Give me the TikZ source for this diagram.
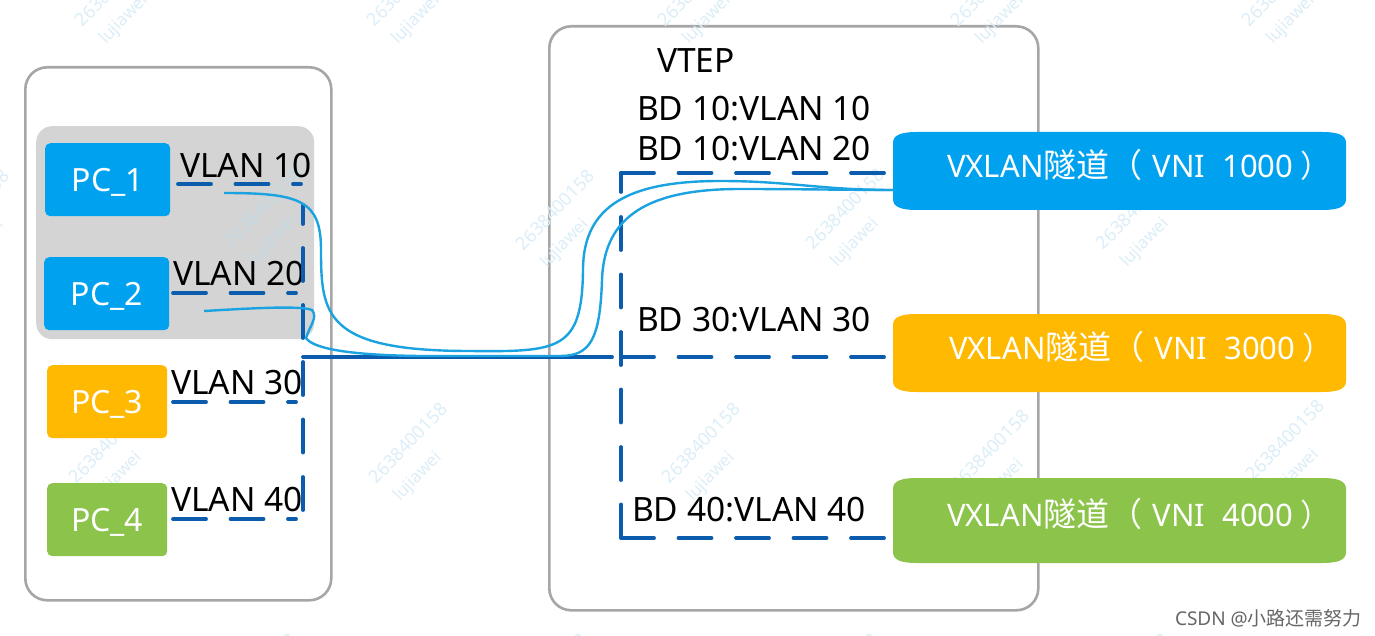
\documentclass[tikz,border=0pt]{standalone}
\usepackage{fontspec}
\setmainfont{Noto Sans}
\newfontfamily\cjk{Noto Sans CJK SC}
\definecolor{pcblue}{HTML}{00A2F0}
\definecolor{pcorange}{HTML}{FFB900}
\definecolor{pcgreen}{HTML}{8CC34A}
\definecolor{dashblue}{HTML}{0B5CAD}
\definecolor{wireblue}{HTML}{1AA3E0}
\definecolor{framegray}{HTML}{A6A6A6}
\definecolor{wmcolor}{HTML}{DCEEF8}
\definecolor{wmgray}{HTML}{C6DAE4}
\tikzset{
  x=1pt,y=-1pt,
  frame/.style={draw=framegray,line width=2.6pt,fill=white,rounded corners=22pt},
  pcbox/.style={text=white,font=\fontsize{32}{32}\selectfont,rounded corners=5pt,inner sep=0pt,align=center},
  tunneltext/.style={text=white,inner sep=0pt,anchor=west,font=\fontsize{31}{31}\selectfont},
  lbl/.style={anchor=center,inner sep=0pt,text=black,font=\fontsize{33.5}{33.5}\selectfont},
  dline/.style={draw=dashblue,line width=3.8pt,dash pattern=on 33pt off 24.5pt,line cap=round},
  dcont/.style={draw=dashblue,line width=3.8pt,line cap=round},
  wire/.style={draw=wireblue,line width=2.4pt},
  wm/.style={text=wmcolor,font=\fontsize{18}{18}\selectfont,rotate=46,inner sep=0pt},
}
\newcommand{\wmark}[2]{%
  \node[wm] at (#1,#2) {2638400158};
  \node[wm,font=\fontsize{17}{17}\selectfont] at (#1+10,#2+34) {lujiawei};}
\newcommand{\tunnelfill}[5]{%
  \fill[#5] (#1,#2+11) .. controls (#1,#2+3) and (#1+8,#2) .. (#1+24,#2) -- (#3-24,#2)
    .. controls (#3-8,#2) and (#3,#2+3) .. (#3,#2+11) -- (#3,#4-11)
    .. controls (#3,#4-3) and (#3-8,#4) .. (#3-24,#4) -- (#1+24,#4)
    .. controls (#1+8,#4) and (#1,#4-3) .. (#1,#4-11) -- cycle;}
\newcommand{\tlabel}[1]{VXLAN{\cjk\fontsize{33}{33}\selectfont 隧道（}\hspace{10pt}VNI\hspace{9pt} #1\hspace{7pt}{\cjk ）}}
\newcommand{\pclabel}[1]{\rule{0pt}{24pt}\smash{#1}}
\begin{document}
\begin{tikzpicture}
\useasboundingbox (0,0) rectangle (1375,636);
\fill[white] (0,0) rectangle (1375,636);
\node[frame,minimum width=306pt,minimum height=533pt,anchor=north west] (left) at (24,66) {};
\node[frame,minimum width=489pt,minimum height=584pt,anchor=north west] (vtep) at (548,25) {};
\wmark{114}{-14}
\wmark{406}{-14}
\wmark{697}{-14}
\wmark{990}{-14}
\wmark{1281}{-14}
\wmark{108}{443}
\wmark{408}{443}
\wmark{701}{443}
\wmark{990}{450}
\wmark{1285}{440}
\wmark{555}{210}
\wmark{845}{209}
\wmark{1135}{209}
\wmark{-30}{210}
\wmark{257}{674}
\wmark{548}{674}
\wmark{839}{674}
\wmark{1130}{674}
\node[fill=black!17,rounded corners=16pt,minimum width=278pt,minimum height=213pt,anchor=north west] (group) at (36,126) {};
\node[wm,text=wmgray] (wg) at (263,207) {2638400158};
\node[wm,text=wmgray,font=\fontsize{17}{17}\selectfont] (wh) at (273,241) {lujiawei};
\node[pcbox,fill=pcblue,minimum width=125pt,minimum height=73pt,anchor=north west] (pc1) at (45,143) {\pclabel{PC\_1}};
\node[pcbox,fill=pcblue,minimum width=125pt,minimum height=73pt,anchor=north west] (pc2) at (44,257) {\pclabel{PC\_2}};
\node[pcbox,fill=pcorange,minimum width=120pt,minimum height=73pt,anchor=north west] (pc3) at (47,365) {\pclabel{PC\_3}};
\node[pcbox,fill=pcgreen,minimum width=120pt,minimum height=73pt,anchor=north west] (pc4) at (47,483) {\pclabel{PC\_4}};
\node[lbl] (v10) at (246,166) {VLAN 10};
\node[lbl] (v20) at (239,274) {VLAN 20};
\node[lbl] (v30) at (237,383) {VLAN 30};
\node[lbl] (v40) at (237,500) {VLAN 40};
\node[lbl] (vt) at (696,61) {VTEP};
\node[lbl] (bd1) at (754,109) {BD 10:VLAN 10};
\node[lbl] (bd2) at (754,149) {BD 10:VLAN 20};
\node[lbl] (bd3) at (754,320) {BD 30:VLAN 30};
\node[lbl] (bd4) at (749,510) {BD 40:VLAN 40};
\tunnelfill{893}{132}{1346}{210}{pcblue}
\tunnelfill{893}{314}{1346}{392}{pcorange}
\tunnelfill{893}{478}{1346}{563}{pcgreen}
\node[tunneltext] (t1) at (947,165) {\tlabel{1000}};
\node[tunneltext] (t3) at (949,347) {\tlabel{3000}};
\node[tunneltext] (t4) at (947,514) {\tlabel{4000}};
\coordinate (a1) at (178,184);
\coordinate (a2) at (173,293);
\coordinate (a3) at (173,402);
\coordinate (a4) at (173,519);
\coordinate (bus1) at (301,184);
\coordinate (bus2) at (296,293);
\coordinate (bus3) at (296,402);
\coordinate (bus4) at (296,519);
\coordinate (j) at (303,357);
\coordinate (k) at (612,357);
\coordinate (top) at (621,173);
\coordinate (bot) at (621,538);
\coordinate (e1) at (888,173);
\coordinate (e3) at (888,357);
\coordinate (e4) at (888,538);
\coordinate (w1) at (893,190);
\draw[dline] (a1) -- (bus1);
\draw[dline] (a2) -- (bus2);
\draw[dline] (a3) -- (bus3);
\draw[dline] (a4) -- (bus4);
\draw[dline] (303,205) -- (303,224);
\draw[dline] (303,248) -- (303,281);
\draw[dline] (303,305) -- (303,338);
\draw[dline] (303,362) -- (303,513);
\draw[dcont] (j) -- (k);
\draw[dline] (621,357) -- (e3);
\draw[dcont] (top) -- (621,192);
\draw[dline] (621,217) -- (bot);
\draw[dline] (top) -- (e1);
\draw[dline] (bot) -- (e4);
\draw[wire] (224,193) .. controls (300,193) and (321,200) .. (321,250) .. controls (321,315) and (325,351) .. (470,351) .. controls (560,352) and (582,350) .. (583,270) .. controls (583,205) and (630,181) .. (720,181) .. controls (790,181) and (820,190) .. (w1);
\draw[wire] (204,311) .. controls (240,309) and (300,305) .. (312,310) .. controls (318,318) and (310,325) .. (306,338) .. controls (312,347) and (340,355) .. (420,356) -- (560,356) .. controls (590,356) and (600,340) .. (602,280) .. controls (604,215) and (650,189) .. (740,189) .. controls (800,189) and (850,190) .. (w1);
\node[anchor=east,inner sep=0pt,text=black!60,font=\fontsize{19}{19}\selectfont] (csdn) at (1362,618) {CSDN @{\cjk 小路还需努力}};
\end{tikzpicture}
\end{document}
